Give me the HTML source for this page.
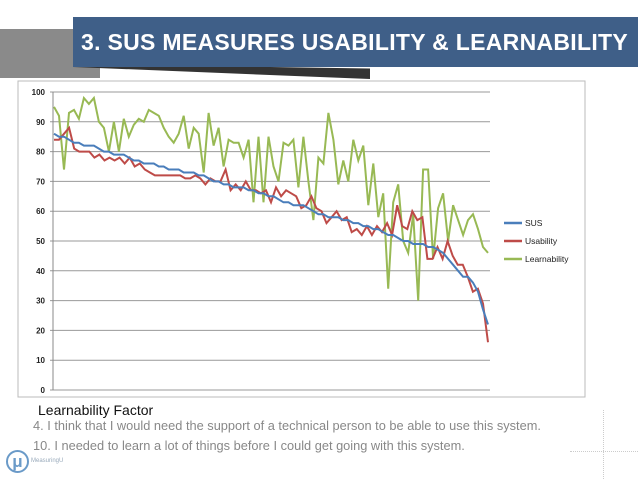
<!DOCTYPE html>
<html><head><meta charset="utf-8"><style>
body{margin:0;width:638px;height:479px;background:#fff;position:relative;overflow:hidden;font-family:"Liberation Sans",sans-serif}
.abs{position:absolute}
</style></head><body>
<div class="abs" style="left:0;top:29px;width:100px;height:49px;background:#8a8a8a"></div>
<div class="abs" style="left:73px;top:64px;width:297px;height:15px;background:#333;clip-path:polygon(0 0,100% 30%,100% 100%,0 20%)"></div>
<div class="abs" style="left:73px;top:17px;width:565px;height:50px;background:#3f5f88;color:#fff;font-weight:bold;font-size:23px;line-height:50px;padding-left:8px;box-sizing:border-box;white-space:nowrap;letter-spacing:0.3px;overflow:hidden">3. SUS MEASURES USABILITY &amp; LEARNABILITY</div>
<svg class="abs" style="left:0;top:0" width="638" height="479">
<rect x="18" y="81" width="567" height="316" fill="#fff" stroke="#bbb"/>
<g id="grid"></g><g id="lines"></g><g id="legend"></g>
</svg>
<div class="abs" style="left:38px;top:402px;font-size:14px;color:#111">Learnability Factor</div>
<div class="abs" style="left:33px;top:418px;font-size:12.8px;color:#888;white-space:nowrap">4. I think that I would need the support of a technical person to be able to use this system.</div>
<div class="abs" style="left:33px;top:438px;font-size:12.8px;color:#888;white-space:nowrap">10. I needed to learn a lot of things before I could get going with this system.</div>
<div class="abs" style="left:6px;top:450px;width:19px;height:19px;border:2px solid #6a9ac8;border-radius:50%;color:#6a9ac8;font-size:17px;line-height:19px;text-align:center;font-weight:bold">μ</div>
<div class="abs" style="left:31px;top:458px;font-size:6px;color:#9ab">MeasuringU</div>
<div class="abs" style="left:603px;top:410px;width:1px;height:69px;border-left:1px dotted #ccc"></div>
<div class="abs" style="left:570px;top:451px;width:68px;height:1px;border-top:1px dotted #ccc"></div>
<script>
const yTicks=[0,10,20,30,40,50,60,70,80,90,100];
const susVals=[86,85,85,84,83,83,82,82,82,81,80,80,79,79,79,78,77,77,76,76,76,75,75,74,74,74,73,73,73,72,72,71,70,70,69,69,68,68,68,67,67,66,66,65,65,64,63,63,62,62,62,61,60,59,59,58,58,58,57,57,56,56,55,55,54,54,53,52,52,51,50,50,49,49,49,48,48,47,46,44,42,40,38,38,36,33,27,22];
const usabilityVals=[84,84,86,88,81,80,80,80,78,79,77,78,77,78,76,78,75,76,74,73,72,72,72,72,72,72,71,71,72,71,69,71,70,70,74,67,69,67,70,67,67,66,67,63,68,65,67,66,65,61,62,65,61,60,56,58,60,57,58,53,54,52,55,52,55,53,56,52,62,55,54,60,57,58,44,44,48,44,50,45,42,42,38,33,34,29,16];
const learnVals=[95,92,74,93,94,91,98,96,98,90,88,80,90,80,91,85,89,91,90,94,93,92,88,85,83,86,92,81,88,86,73,93,82,88,75,84,83,83,78,84,63,85,63,85,75,70,83,82,84,68,85,70,57,78,76,93,84,69,77,70,84,77,82,62,76,58,66,34,63,69,50,46,59,30,74,74,44,61,66,50,62,57,52,57,59,54,48,46];
const series=[["SUS",susVals,"#4a7ebb"],["Usability",usabilityVals,"#be4b48"],["Learnability",learnVals,"#98b954"]];
const x0=54,x1=488,yB=390,yT=92;
const yS=v=>yB-(v/100)*(yB-yT);
const NS="http://www.w3.org/2000/svg";
const grid=document.getElementById('grid');
yTicks.forEach(t=>{
 const l=document.createElementNS(NS,'line');
 l.setAttribute('x1',50);l.setAttribute('x2',490);l.setAttribute('y1',yS(t));l.setAttribute('y2',yS(t));
 l.setAttribute('stroke','#999');l.setAttribute('stroke-width','1');
 
 
 grid.appendChild(l);
 const tx=document.createElementNS(NS,'text');
 tx.setAttribute('x',45);tx.setAttribute('y',yS(t)+3);tx.setAttribute('text-anchor','end');
 tx.setAttribute('font-size','8');tx.setAttribute('font-weight','bold');tx.setAttribute('fill','#222');
 tx.textContent=t;
 
 
 grid.appendChild(tx);
});
const ax=document.createElementNS(NS,'line');
ax.setAttribute('x1',53);ax.setAttribute('x2',53);ax.setAttribute('y1',yT);ax.setAttribute('y2',yB);ax.setAttribute('stroke','#888');


grid.appendChild(ax);
const lines=document.getElementById('lines'),leg=document.getElementById('legend');
[series[2],series[1],series[0]].forEach(([name,vals,col])=>{
 const n=vals.length,dx=(x1-x0)/(n-1);
 const p=document.createElementNS(NS,'polyline');
 p.setAttribute('points',vals.map((v,i)=>(x0+i*dx).toFixed(1)+','+yS(v).toFixed(1)).join(' '));
 p.setAttribute('fill','none');p.setAttribute('stroke',col);p.setAttribute('stroke-width','2');
 
 
 lines.appendChild(p);
});
series.forEach(([name,vals,col],k)=>{
 const y=223+k*18;
 const l=document.createElementNS(NS,'line');
 l.setAttribute('x1',504);l.setAttribute('x2',522);l.setAttribute('y1',y);l.setAttribute('y2',y);
 l.setAttribute('stroke',col);l.setAttribute('stroke-width','2.5');
 
 
 leg.appendChild(l);
 const t=document.createElementNS(NS,'text');
 t.setAttribute('x',525);t.setAttribute('y',y+3);t.setAttribute('font-size','8.5');t.setAttribute('fill','#222');
 t.textContent=name;
 
 
 leg.appendChild(t);
});
</script>
</body></html>
